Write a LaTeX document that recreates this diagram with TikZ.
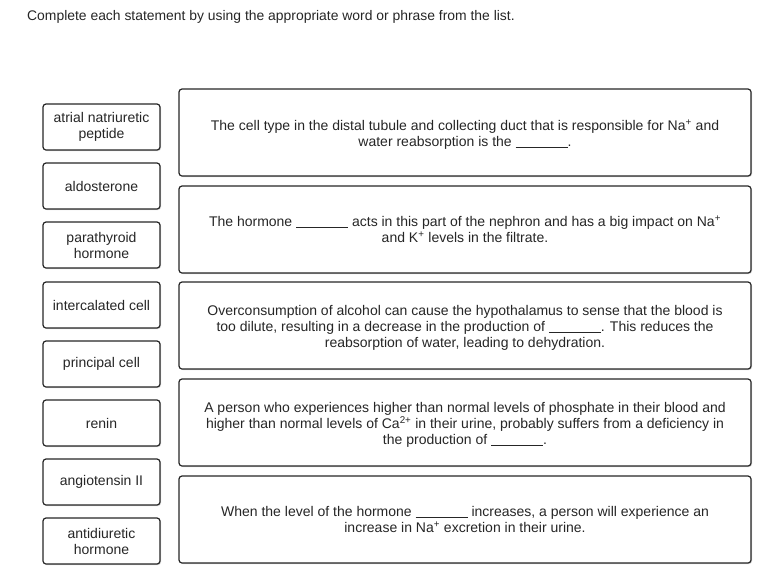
\documentclass[tikz,border=0pt]{standalone}
\usepackage{fontspec}
\setmainfont{Liberation Sans}
\usetikzlibrary{shadows}
\newcommand{\blank}{\rule[-1pt]{52pt}{0.6pt}}
\begin{document}
\begin{tikzpicture}[x=1pt,y=-1pt,
  box/.style={draw=black!85,line width=1.2pt,rounded corners=3pt,fill=white,
     drop shadow={shadow xshift=1pt,shadow yshift=-1pt,opacity=.35}},
  lab/.style={font=\fontsize{14}{16}\selectfont,align=center,text=black!85}]
\useasboundingbox (0,0) rectangle (775,587);
\node[anchor=west,inner sep=0pt,font=\fontsize{13.9}{15}\selectfont,text=black!85] (t) at (27,17) {Complete each statement by using the appropriate word or phrase from the list.};
\foreach \n/\ya/\txt in {a/104/{atrial natriuretic\\peptide},b/163/aldosterone,c/222/{parathyroid\\hormone},d/282/intercalated cell,e/341/principal cell,f/400/renin,g/459/angiotensin II,h/518/{antidiuretic\\hormone}}{
  \draw[box] (43,\ya) rectangle (160,\ya+46);
  \node[lab] (\n) at (101.5,\ya+23) {\txt};
}
\foreach \ya in {89,186,282,379,476}{\draw[box] (179,\ya) rectangle (751,\ya+87);}
\node[lab,anchor=north] (q1) at (465,116) {The cell type in the distal tubule and collecting duct that is responsible for Na\textsuperscript{+} and\\water reabsorption is the \blank.};
\node[lab,anchor=north] (q2) at (465,212) {The hormone \blank{} acts in this part of the nephron and has a big impact on Na\textsuperscript{+}\\and K\textsuperscript{+} levels in the filtrate.};
\node[lab,anchor=north] (q3) at (465,302) {Overconsumption of alcohol can cause the hypothalamus to sense that the blood is\\too dilute, resulting in a decrease in the production of \blank. This reduces the\\reabsorption of water, leading to dehydration.};
\node[lab,anchor=north] (q4) at (465,399) {A person who experiences higher than normal levels of phosphate in their blood and\\higher than normal levels of Ca\textsuperscript{2+} in their urine, probably suffers from a deficiency in\\the production of \blank.};
\node[lab,anchor=north] (q5) at (465,503) {When the level of the hormone \blank{} increases, a person will experience an\\increase in Na\textsuperscript{+} excretion in their urine.};
\end{tikzpicture}
\end{document}
